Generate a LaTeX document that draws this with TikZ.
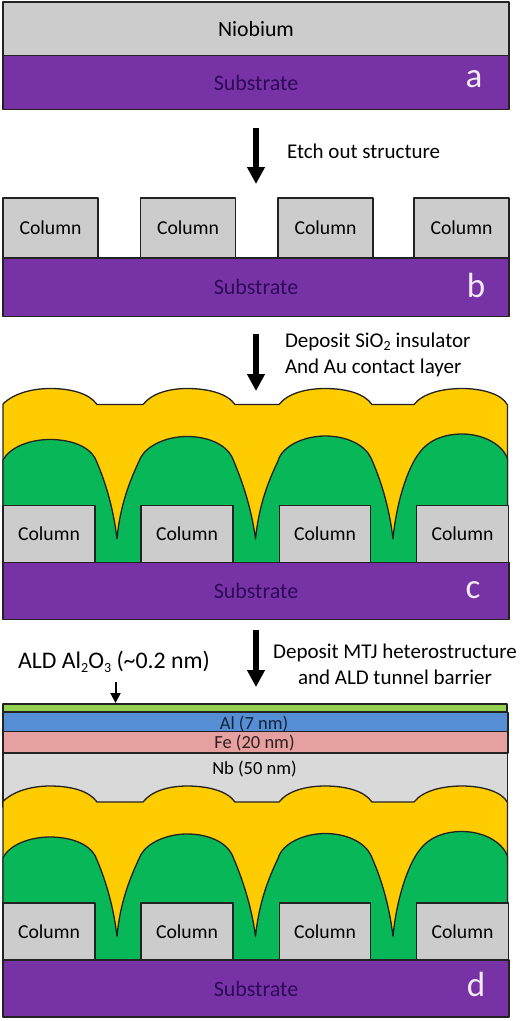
\documentclass[tikz,border=0pt]{standalone}
\usepackage{fontspec}
\setmainfont{Carlito}
\usetikzlibrary{arrows.meta}
\definecolor{metal}{HTML}{CCCCCC}
\definecolor{nblight}{HTML}{D9D9D9}
\definecolor{wafer}{HTML}{7733A5}
\definecolor{waferink}{HTML}{2E0A58}
\definecolor{gold}{HTML}{FFCC00}
\definecolor{oxide}{HTML}{08B858}
\definecolor{barrier}{HTML}{92D050}
\definecolor{alblue}{HTML}{558ED5}
\definecolor{fepink}{HTML}{E6A0A0}
\definecolor{edge}{HTML}{222222}
\newcommand{\lowidx}[1]{\raisebox{-0.3ex}{\fontsize{14}{14}\selectfont #1}}
\tikzset{
	every node/.style={inner sep=0pt, outer sep=0pt},
	layer/.style={draw=edge, line width=1.3pt},
	bigbox/.style={layer, minimum width=506pt},
	substrate/.style={bigbox, fill=wafer, text=waferink, minimum height=57pt, font=\fontsize{22}{24}\selectfont},
	column/.style={layer, fill=metal, minimum height=58pt, font=\fontsize{19.7}{22}\selectfont},
	note/.style={font=\fontsize{21}{26}\selectfont, align=left},
	tag/.style={text=white!90!wafer, font=\fontsize{35}{38}\selectfont},
	film/.style={bigbox, font=\fontsize{18.5}{22}\selectfont},
	step arrow/.style={-{Triangle[width=17pt,length=17pt]}, line width=5.5pt},
	thin arrow/.style={-{Triangle[width=10pt,length=10pt]}, line width=2pt},
}
\begin{document}
\begin{tikzpicture}[x=1pt, y=-1pt, line join=round]
		\useasboundingbox (0,0) rectangle (520,1021);
		% Panel a
		\begin{scope}
			\node[bigbox, fill=metal, minimum height=54pt, font=\fontsize{21.8}{24}\selectfont] (niobium) at (256,29) {Niobium};
			\node[substrate, minimum height=54pt] (subA) at (256,82.5) {Substrate};
			\node[tag] (tagA) at (474,79) {a};
		\end{scope}
		% Etch arrow
		\coordinate (etchA) at (256,128);
		\coordinate (etchB) at (256,184);
		\draw[step arrow] (etchA) -- (etchB);
		\node[note, anchor=west] (etchText) at (287,151) {Etch out structure};
		% Panel b
		\begin{scope}
			\node[substrate, minimum height=58.5pt] (subB) at (256,287.2) {Substrate};
			\node[column, minimum width=95pt, minimum height=60pt] (colB1) at (50.5,228) {Column};
			\node[column, minimum width=95pt, minimum height=60pt] (colB2) at (188,228) {Column};
			\node[column, minimum width=95pt, minimum height=60pt] (colB3) at (325.5,228) {Column};
			\node[column, minimum width=95pt, minimum height=60pt] (colB4) at (461.5,228) {Column};
			\node[tag] (tagB) at (476,285) {b};
		\end{scope}
		% Deposit arrow
		\coordinate (depA) at (256,334);
		\coordinate (depB) at (256,391);
		\draw[step arrow] (depA) -- (depB);
		\node[note, anchor=west] (depText) at (285,355) {Deposit SiO\lowidx{2} insulator\\And Au contact layer};
		% Panel c
		\begin{scope}
			\draw[layer, fill=gold] (3,404) .. controls (14,393) and (33,388.5) .. (50,388.5) .. controls (70,388.5) and (89,393) .. (97,404.5) -- (143,404.5) .. controls (152,393) and (170,388.5) .. (187,388.5) .. controls (207,388.5) and (227,393) .. (235,404.5) -- (279,404.5) .. controls (288,393) and (307,388.5) .. (325,388.5) .. controls (345,388.5) and (364,393) .. (372,404.5) -- (414,404.5) .. controls (423,393) and (443,388.5) .. (462,388.5) .. controls (482,388.5) and (502,394) .. (507.5,405) -- (507.5,550) -- (3,550) -- cycle;
			\draw[layer, fill=oxide] (3,460) .. controls (10,447) and (30,439.5) .. (50,439.5) .. controls (72,439.5) and (89,447) .. (95,458) .. controls (104,478) and (113,505) .. (117,539) .. controls (120,505) and (130,480) .. (141,457) .. controls (148,445) and (167,436.5) .. (187,436.5) .. controls (209,436.5) and (226,445) .. (232,457) .. controls (241,478) and (251,505) .. (255.5,539) .. controls (259,505) and (268,482) .. (278,461) .. controls (282,446) and (304,436) .. (325,436) .. controls (347,436) and (365,445) .. (371,458) .. controls (380,478) and (389,505) .. (393,539) .. controls (396,505) and (407,468) .. (420,452) .. controls (428,441) and (443,434) .. (462,434) .. controls (484,434) and (503,445) .. (507.5,459) -- (507.5,563) -- (3,563) -- cycle;
			\node[column, minimum width=92pt, minimum height=57pt] (colC1) at (49,534) {Column};
			\node[column, minimum width=92pt, minimum height=57pt] (colC2) at (187,534) {Column};
			\node[column, minimum width=91pt, minimum height=57pt] (colC3) at (325,534) {Column};
			\node[column, minimum width=91.5pt, minimum height=57pt] (colC4) at (462.5,534) {Column};
			\node[substrate] (subC) at (256,591) {Substrate};
			\node[tag] (tagC) at (473,590) {c};
		\end{scope}
		% MTJ arrow
		\coordinate (mtjA) at (256,630);
		\coordinate (mtjB) at (256,687);
		\draw[step arrow] (mtjA) -- (mtjB);
		\node[note, align=center] (mtjText) at (395,664) {Deposit MTJ heterostructure\\and ALD tunnel barrier};
		% ALD label
		\node[font=\fontsize{23.8}{26}\selectfont] (aldText) at (114,662) {ALD Al\lowidx{2}O\lowidx{3} (\textasciitilde0.2 nm)};
		\coordinate (aldA) at (115.5,682);
		\coordinate (aldB) at (115.5,703);
		\draw[thin arrow] (aldA) -- (aldB);
		% Panel d
		\node[film, fill=barrier, minimum height=8pt, minimum width=504pt] (aldFilm) at (255,708) {};
		\node[film, fill=alblue, minimum height=19pt, minimum width=505pt] (alFilm) at (255.5,722) {};
		\node[film, fill=fepink, minimum height=21.5pt, minimum width=505pt] (feFilm) at (255.5,742.3) {};
		\node[film, fill=nblight, minimum height=54pt, minimum width=504.5pt] (nbFilm) at (255.2,780) {};
		\node[film, draw=none, minimum width=0pt, text=black!75!alblue] (alText) at (254,724) {Al (7 nm)};
		\node[film, draw=none, minimum width=0pt, text=black!80!fepink] (feText) at (254.5,743) {Fe (20 nm)};
		\node[film, draw=none, minimum width=0pt] (nbText) at (254.5,769) {Nb (50 nm)};
		\begin{scope}[yshift=-397.5pt]
			\draw[layer, fill=gold] (3,404) .. controls (14,393) and (33,388.5) .. (50,388.5) .. controls (70,388.5) and (89,393) .. (97,404.5) -- (143,404.5) .. controls (152,393) and (170,388.5) .. (187,388.5) .. controls (207,388.5) and (227,393) .. (235,404.5) -- (279,404.5) .. controls (288,393) and (307,388.5) .. (325,388.5) .. controls (345,388.5) and (364,393) .. (372,404.5) -- (414,404.5) .. controls (423,393) and (443,388.5) .. (462,388.5) .. controls (482,388.5) and (502,394) .. (507.5,405) -- (507.5,550) -- (3,550) -- cycle;
			\draw[layer, fill=oxide] (3,460) .. controls (10,447) and (30,439.5) .. (50,439.5) .. controls (72,439.5) and (89,447) .. (95,458) .. controls (104,478) and (113,505) .. (117,539) .. controls (120,505) and (130,480) .. (141,457) .. controls (148,445) and (167,436.5) .. (187,436.5) .. controls (209,436.5) and (226,445) .. (232,457) .. controls (241,478) and (251,505) .. (255.5,539) .. controls (259,505) and (268,482) .. (278,461) .. controls (282,446) and (304,436) .. (325,436) .. controls (347,436) and (365,445) .. (371,458) .. controls (380,478) and (389,505) .. (393,539) .. controls (396,505) and (407,468) .. (420,452) .. controls (428,441) and (443,434) .. (462,434) .. controls (484,434) and (503,445) .. (507.5,459) -- (507.5,563) -- (3,563) -- cycle;
			\node[column, minimum width=92pt, minimum height=57pt] (colD1) at (49,534) {Column};
			\node[column, minimum width=92pt, minimum height=57pt] (colD2) at (187,534) {Column};
			\node[column, minimum width=91pt, minimum height=57pt] (colD3) at (325,534) {Column};
			\node[column, minimum width=91.5pt, minimum height=57pt] (colD4) at (462.5,534) {Column};
			\node[substrate] (subD) at (256,591) {Substrate};
			\node[tag] (tagD) at (476,587) {d};
		\end{scope}
	\end{tikzpicture}
\end{document}
